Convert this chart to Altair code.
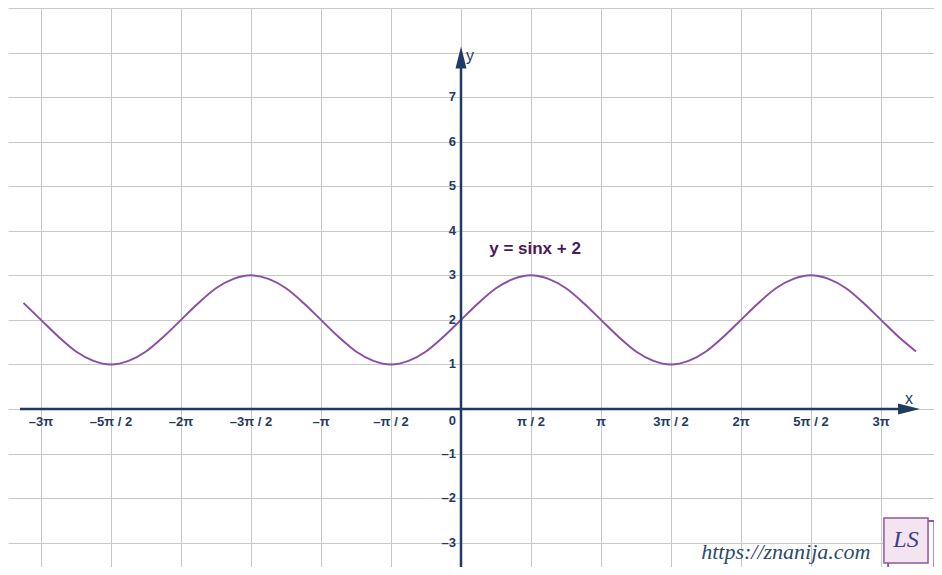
import altair as alt
import pandas as pd

# ---- data (x in units of pi) ----
curve_x = [-3.125, -3.0, -2.875, -2.75, -2.625, -2.5, -2.375, -2.25, -2.125, -2.0,
           -1.875, -1.75, -1.625, -1.5, -1.375, -1.25, -1.125, -1.0, -0.875, -0.75,
           -0.625, -0.5, -0.375, -0.25, -0.125, 0.0, 0.125, 0.25, 0.375, 0.5,
           0.625, 0.75, 0.875, 1.0, 1.125, 1.25, 1.375, 1.5, 1.625, 1.75,
           1.875, 2.0, 2.125, 2.25, 2.375, 2.5, 2.625, 2.75, 2.875, 3.0,
           3.125, 3.25]
curve_y = [2.38, 2.00, 1.62, 1.29, 1.08, 1.00, 1.08, 1.29, 1.62, 2.00,
           2.38, 2.71, 2.92, 3.00, 2.92, 2.71, 2.38, 2.00, 1.62, 1.29,
           1.08, 1.00, 1.08, 1.29, 1.62, 2.00, 2.38, 2.71, 2.92, 3.00,
           2.92, 2.71, 2.38, 2.00, 1.62, 1.29, 1.08, 1.00, 1.08, 1.29,
           1.62, 2.00, 2.38, 2.71, 2.92, 3.00, 2.92, 2.71, 2.38, 2.00,
           1.62, 1.29]

x_ticks = [-3.0, -2.5, -2.0, -1.5, -1.0, -0.5, 0.5, 1.0, 1.5, 2.0, 2.5, 3.0]
x_tick_labels = ["–3π", "–5π / 2", "–2π", "–3π / 2", "–π", "–π / 2",
                 "π / 2", "π", "3π / 2", "2π", "5π / 2", "3π"]
y_ticks = [-3, -2, -1, 1, 2, 3, 4, 5, 6, 7]
y_tick_labels = ["–3", "–2", "–1", "1", "2", "3", "4", "5", "6", "7"]

x_grid = [-3.0, -2.5, -2.0, -1.5, -1.0, -0.5, 0.0, 0.5, 1.0, 1.5, 2.0, 2.5, 3.0]
y_grid = [-3, -2, -1, 0, 1, 2, 3, 4, 5, 6, 7, 8, 9]

x_domain = [-3.2357, 3.3786]
y_domain = [-3.547, 9.0]

x_axis_span = [-3.15, 3.14]
y_axis_span = [-3.547, 7.8]
x_arrow = [3.2, 0.0]
y_arrow = [0.0, 7.89]

func_label = ["y = sinx + 2"]
func_label_pos = [0.529, 3.59]

watermark = ["https://znanija.com"]
watermark_pos = [2.32, -3.21]
logo_box = [3.021, 3.336, -2.447, -3.457]

AXIS_COLOR = "#1f3b63"
CURVE_COLOR = "#8b4fa5"
LABEL_COLOR = "#4a1a5c"

xs = alt.Scale(domain=x_domain, nice=False, zero=False)
ys = alt.Scale(domain=y_domain, nice=False, zero=False)
xax = alt.Axis(values=x_grid, labels=False, ticks=False, domain=False, title=None,
               grid=True, gridColor="#c8c8c8", gridWidth=1)
yax = alt.Axis(values=y_grid, labels=False, ticks=False, domain=False, title=None,
               grid=True, gridColor="#c8c8c8", gridWidth=1)


def X(field):
    return alt.X(field, type="quantitative", scale=xs, axis=xax, title=None)


def Y(field):
    return alt.Y(field, type="quantitative", scale=ys, axis=yax, title=None)


curve_df = pd.DataFrame({"u": curve_x, "y": curve_y})
curve = alt.Chart(curve_df).mark_line(
    color=CURVE_COLOR, strokeWidth=2, interpolate="monotone", clip=True
).encode(x=X("u"), y=Y("y"))

xaxis_df = pd.DataFrame({"u": [x_axis_span[0]], "u2": [x_axis_span[1]], "y": [0.0]})
xaxis_line = alt.Chart(xaxis_df).mark_rule(color=AXIS_COLOR, strokeWidth=2.5).encode(
    x=X("u"), x2="u2", y=Y("y"))

yaxis_df = pd.DataFrame({"u": [0.0], "y": [y_axis_span[0]], "y2": [y_axis_span[1]]})
yaxis_line = alt.Chart(yaxis_df).mark_rule(color=AXIS_COLOR, strokeWidth=2.5).encode(
    x=X("u"), y=Y("y"), y2="y2")

xarrow_df = pd.DataFrame({"u": [x_arrow[0]], "y": [x_arrow[1]]})
xarrow = alt.Chart(xarrow_df).mark_point(
    shape="M1,0L-1,0.5L-1,-0.5Z", filled=True, size=480, opacity=1,
    color=AXIS_COLOR, strokeWidth=0
).encode(x=X("u"), y=Y("y"))

yarrow_df = pd.DataFrame({"u": [y_arrow[0]], "y": [y_arrow[1]]})
yarrow = alt.Chart(yarrow_df).mark_point(
    shape="M0,-1L0.5,1L-0.5,1Z", filled=True, size=480, opacity=1,
    color=AXIS_COLOR, strokeWidth=0
).encode(x=X("u"), y=Y("y"))

xname = alt.Chart(pd.DataFrame({"u": [x_arrow[0]], "y": [0.0], "t": ["x"]})).mark_text(
    font="Liberation Sans", fontSize=16, color=AXIS_COLOR, dx=0, dy=-10
).encode(x=X("u"), y=Y("y"), text="t:N")

yname = alt.Chart(pd.DataFrame({"u": [0.0], "y": [y_arrow[1]], "t": ["y"]})).mark_text(
    font="Liberation Sans", fontSize=16, color=AXIS_COLOR, dx=9, dy=-1
).encode(x=X("u"), y=Y("y"), text="t:N")

xlab_df = pd.DataFrame({"u": x_ticks, "y": [0.0] * len(x_ticks), "t": x_tick_labels})
xlabels = alt.Chart(xlab_df).mark_text(
    font="Liberation Sans", fontSize=13, fontWeight="bold", color=AXIS_COLOR,
    align="center", baseline="middle", dy=13
).encode(x=X("u"), y=Y("y"), text="t:N")

zero_df = pd.DataFrame({"u": [0.0], "y": [0.0], "t": ["0"]})
zlabel = alt.Chart(zero_df).mark_text(
    font="Liberation Sans", fontSize=13, fontWeight="bold", color=AXIS_COLOR,
    align="right", baseline="middle", dx=-5, dy=12
).encode(x=X("u"), y=Y("y"), text="t:N")

ylab_df = pd.DataFrame({"u": [0.0] * len(y_ticks), "y": y_ticks, "t": y_tick_labels})
ylabels = alt.Chart(ylab_df).mark_text(
    font="Liberation Sans", fontSize=13, fontWeight="bold", color=AXIS_COLOR,
    align="right", baseline="middle", dx=-5
).encode(x=X("u"), y=Y("y"), text="t:N")

flabel_df = pd.DataFrame({"u": [func_label_pos[0]], "y": [func_label_pos[1]], "t": func_label})
flabel = alt.Chart(flabel_df).mark_text(
    font="Liberation Sans", fontSize=17, fontWeight="bold", color=LABEL_COLOR,
    align="center", baseline="middle"
).encode(x=X("u"), y=Y("y"), text="t:N")

wm_df = pd.DataFrame({"u": [watermark_pos[0]], "y": [watermark_pos[1]], "t": watermark})
wm = alt.Chart(wm_df).mark_text(
    font="Liberation Serif", fontSize=22, fontStyle="italic", color="#2b4a6e",
    align="center", baseline="middle"
).encode(x=X("u"), y=Y("y"), text="t:N")

shadow_df = pd.DataFrame({"u": [logo_box[0] + 0.03], "u2": [logo_box[1] + 0.045],
                          "y": [logo_box[2] - 0.07], "y2": [logo_box[3] - 0.15]})
shadow = alt.Chart(shadow_df).mark_rect(fill="#ffffff", stroke="#8a5a9a", strokeWidth=2).encode(
    x=X("u"), x2="u2", y=Y("y"), y2="y2")
box_df = pd.DataFrame({"u": [logo_box[0]], "u2": [logo_box[1]],
                       "y": [logo_box[2]], "y2": [logo_box[3]]})
box = alt.Chart(box_df).mark_rect(fill="#f4e4f0", stroke="#8a5a9a", strokeWidth=1.5).encode(
    x=X("u"), x2="u2", y=Y("y"), y2="y2")
logo_df = pd.DataFrame({"u": [(logo_box[0] + logo_box[1]) / 2],
                        "y": [(logo_box[2] + logo_box[3]) / 2], "t": ["LS"]})
logo = alt.Chart(logo_df).mark_text(
    font="Liberation Serif", fontSize=24, fontStyle="italic", color="#3b3f8a",
    align="center", baseline="middle"
).encode(x=X("u"), y=Y("y"), text="t:N")

chart = alt.layer(
    curve, xaxis_line, yaxis_line, xarrow, yarrow, xname, yname,
    xlabels, zlabel, ylabels, flabel, wm, shadow, box, logo
).properties(
    width=926, height=559, padding=0,
    autosize=alt.AutoSizeParams(type="none"),
    background="#ffffff"
).configure_view(strokeWidth=0)

chart.save("out.html", embed_options={"renderer": "svg", "actions": False})
